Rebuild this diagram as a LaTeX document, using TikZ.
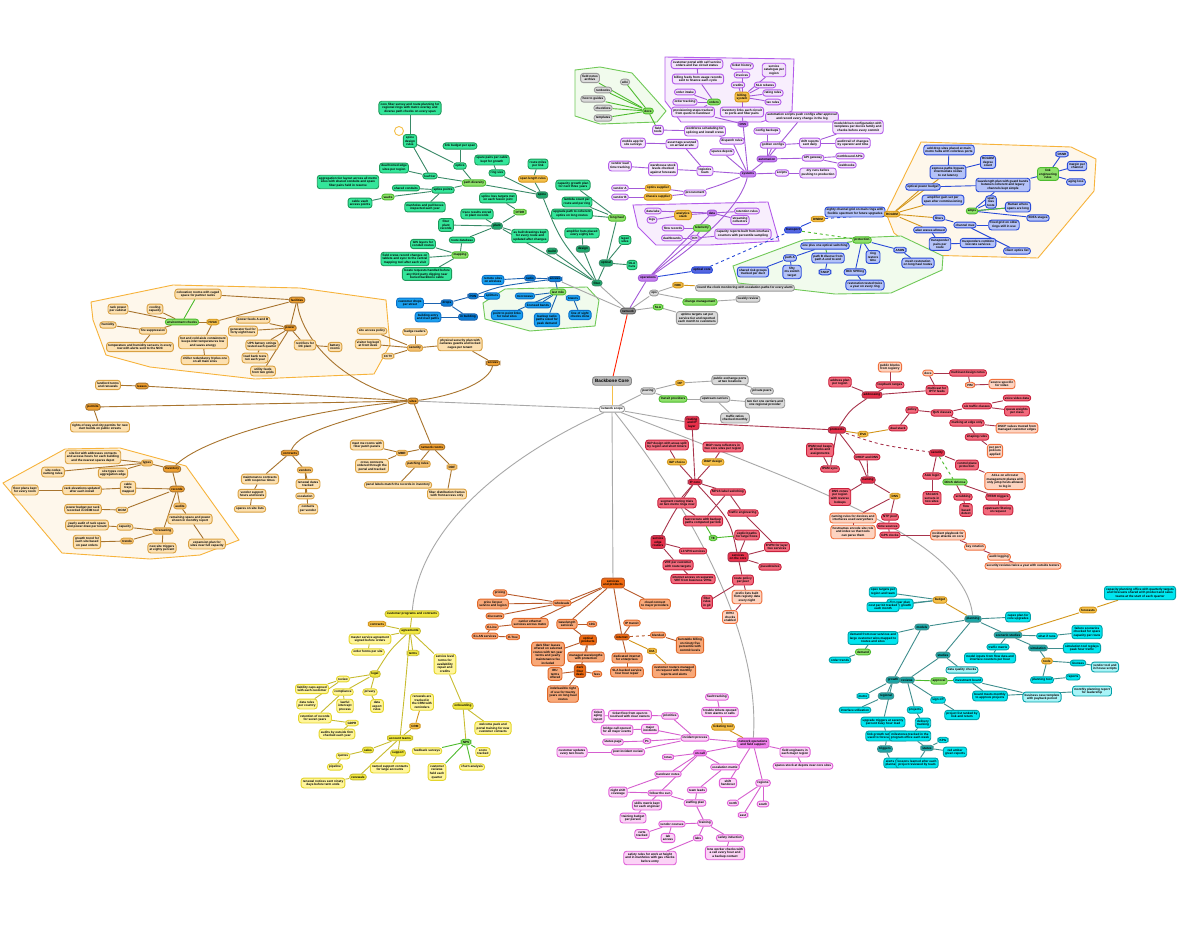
\documentclass[tikz,border=0pt]{standalone}
\usepackage{fontspec}
\setmainfont{Liberation Sans}
\pgfdeclarelayer{hulls}
\pgfdeclarelayer{edges}
\pgfsetlayers{hulls,edges,main}

% colours
\definecolor{grnF}{HTML}{33E69A}\definecolor{grnB}{HTML}{1C9A5A}
\definecolor{grnH}{HTML}{1DAA6E}\definecolor{grnL}{HTML}{3A8A68}
\definecolor{limF}{HTML}{8EE06A}\definecolor{limB}{HTML}{4DBB2E}
\definecolor{golF}{HTML}{F5C04A}\definecolor{golB}{HTML}{D4961A}
\definecolor{skyF}{HTML}{1AA0F0}\definecolor{skyB}{HTML}{0A70C8}
\definecolor{skyH}{HTML}{0A7FD8}\definecolor{skyL}{HTML}{1E64B0}
\definecolor{purF}{HTML}{F3E3FB}\definecolor{purB}{HTML}{B35BEA}
\definecolor{purH}{HTML}{C680F0}\definecolor{purL}{HTML}{A45AD8}
\definecolor{indF}{HTML}{B4C2F8}\definecolor{indB}{HTML}{2A4BD8}
\definecolor{indH}{HTML}{5566E0}
\definecolor{ornF}{HTML}{FCE0B0}\definecolor{ornB}{HTML}{D9A040}
\definecolor{ornM}{HTML}{F4C070}\definecolor{ornH}{HTML}{F0A030}
\definecolor{ornL}{HTML}{A8742E}
\definecolor{redF}{HTML}{F26A7C}\definecolor{redB}{HTML}{C8203C}
\definecolor{redH}{HTML}{E8304A}\definecolor{redL}{HTML}{A8344C}
\definecolor{salF}{HTML}{FDD3C0}\definecolor{salB}{HTML}{F0703C}
\definecolor{droF}{HTML}{F8A878}\definecolor{droB}{HTML}{E06828}
\definecolor{droH}{HTML}{F06A10}\definecolor{droL}{HTML}{B85A2A}
\definecolor{yelF}{HTML}{FFF59A}\definecolor{yelB}{HTML}{E3D42A}
\definecolor{yelH}{HTML}{F2E840}\definecolor{yelL}{HTML}{C8BC30}
\definecolor{pnkF}{HTML}{FBD3F6}\definecolor{pnkB}{HTML}{E05FD8}
\definecolor{pnkH}{HTML}{F080EC}\definecolor{pnkL}{HTML}{D65FCF}
\definecolor{tealF}{HTML}{00E6F0}\definecolor{tealB}{HTML}{00A0A8}
\definecolor{tealH}{HTML}{1AA8A8}\definecolor{tealT}{HTML}{A8F4F8}
\definecolor{tealL}{HTML}{3F8E8E}
\definecolor{gryF}{HTML}{DADADA}\definecolor{gryB}{HTML}{9A9A9A}
\definecolor{gryH}{HTML}{8A8A8A}\definecolor{gryL}{HTML}{A8A8A8}

\tikzset{
  box/.style={draw, rounded corners=2.8pt, line width=0.9pt, inner sep=1.7pt,
    align=center, font=\fontsize{3.1}{3.6}\selectfont\bfseries},
  gbox/.style={box, draw=grnB, fill=grnF},
  ghub/.style={box, draw=grnL, fill=grnH},
  lbox/.style={box, draw=limB, fill=limF},
  obox/.style={box, draw=golB, fill=golF},
  sbox/.style={box, draw=skyB, fill=skyF},
  shub/.style={box, draw=skyL, fill=skyH},
  pbox/.style={box, draw=purB, fill=purF},
  phub/.style={box, draw=purL, fill=purH},
  ibox/.style={box, draw=indB, fill=indF},
  ihub/.style={box, draw=indB, fill=indH},
  abox/.style={box, draw=ornB, fill=ornF},
  amid/.style={box, draw=ornB, fill=ornM},
  ahub/.style={box, draw=ornL, fill=ornH},
  rbox/.style={box, draw=redB, fill=redF},
  rhub/.style={box, draw=redL, fill=redH},
  sal/.style={box, draw=salB, fill=salF},
  dbox/.style={box, draw=droB, fill=droF},
  dhub/.style={box, draw=droL, fill=droH},
  ybox/.style={box, draw=yelB, fill=yelF},
  yhub/.style={box, draw=yelL, fill=yelH},
  kbox/.style={box, draw=pnkB, fill=pnkF},
  khub/.style={box, draw=pnkL, fill=pnkH},
  tbox/.style={box, draw=tealB, fill=tealF},
  thub/.style={box, draw=tealL, fill=tealH},
  ltb/.style={box, draw=tealB, fill=tealT},
  grbox/.style={box, draw=gryB, fill=gryF},
  chub/.style={box, draw=gryH!70!black, fill=gryH},
  cbox/.style={box, draw=gryB, fill=white},
  core/.style={box, draw=gryH, fill=gryF!85!black, inner sep=2.6pt,
    font=\fontsize{4.6}{5}\selectfont\bfseries},
  lk/.style={line width=0.9pt},
  gl/.style={lk, draw=grnL}, sl/.style={lk, draw=skyL}, pl/.style={lk, draw=purL},
  il/.style={lk, draw=indB}, al/.style={lk, draw=ornL}, rl/.style={lk, draw=redL},
  dl/.style={lk, draw=droL}, yl/.style={lk, draw=yelL}, kl/.style={lk, draw=pnkL},
  tl/.style={lk, draw=tealL}, cl/.style={lk, draw=gryL}, ol/.style={lk, draw=golB},
  ll/.style={lk, draw=limB},
  hullO/.style={draw=golF!80!orange, fill=ornF!25, line width=0.9pt},
  hullG/.style={draw=limB!80, fill=limF!12, line width=0.9pt},
  hullP/.style={draw=purB, fill=purF!60, line width=0.9pt}
}

\begin{document}
\begin{tikzpicture}[x=1pt,y=-1pt]
\useasboundingbox (0,0) rectangle (1200,927);

\begin{pgfonlayer}{hulls}
\fill[white] (0,0) rectangle (1200,927);
\draw[hullG] (483,303) -- (505,289) -- (587,287) -- (599,300) -- (595,326) -- (530,331) -- (485,319) -- cycle;
\draw[hullG] (575,70) -- (600,67) -- (632,73) -- (666,111) -- (657,122) -- (600,124) -- (575,116) -- cycle;
\draw[hullP] (665,57) -- (794,59) -- (792,111) -- (777,117) -- (761,122) -- (681,122) -- (665,101) -- cycle;
\draw[hullP] (633,205) -- (768,202) -- (779,241) -- (710,245) -- (656,245) -- (638,227) -- cycle;
\draw[hullO] (886,213) -- (921,142) -- (1071,147) -- (1096,159) -- (1094,191) -- (1038,258) -- (922,255) -- (894,233) -- cycle;
\draw[hullG] (733,266) -- (803,240) -- (901,236) -- (943,256) -- (942,270) -- (891,293) -- (835,294) -- (738,283) -- cycle;
\draw[hullO] (91,302) -- (173,285) -- (300,288) -- (386,300) -- (390,345) -- (374,374) -- (255,379) -- (150,367) -- (106,355) -- (93,320) -- cycle;
\draw[hullO] (3,483) -- (65,449) -- (120,448) -- (186,466) -- (239,540) -- (200,555) -- (150,559) -- (62,553) -- cycle;
\end{pgfonlayer}

% centre
\node[core] (c1) at (612,381) {Backbone Core};
\node[chub] (c0) at (628,311) {network};
\node[cbox] (c2) at (612,409) {network scope};
\foreach \n/\x/\y/\t in {c3/654/293/{ops}, c5/745/288/{round the clock monitoring with escalation paths for every alarm},
  c7/748/299/{weekly review}, c9/697/318/{uptime targets set per\\service tier and reported\\each month to customers},
  c10/648/391/{peering}, c12/730/380/{public exchange ports\\at two locations}, c13/762/391/{private peers},
  c15/715/399/{upstream carriers}, c16/765/403/{two tier one carriers and\\one regional provider},
  c17/735/418/{traffic ratios\\checked monthly}}
  \node[grbox] (\n) at (\x,\y) {\t};
\foreach \n/\x/\y/\t in {c4/678/285/{NOC}, c11/680/383/{IXP}}
  \node[obox] (\n) at (\x,\y) {\t};
\foreach \n/\x/\y/\t in {c6/700/302/{change management}, c8/658/307/{SLA}, c14/673/399/{transit providers}}
  \node[lbox] (\n) at (\x,\y) {\t};

% green branch
\foreach \n/\x/\y/\t in {
  g1/410/108/{core fiber survey and route planning for\\regional rings with metro overlay and\\diverse path checks on every span},
  g2/410/141/{spine\\design\\rules}, g3/460/146/{link budget per span}, g4/460/166/{optics},
  g5/394/168/{dual homed edge\\sites per region}, g6/430/176/{leaf tier},
  g7/348/182/{aggregation tier layout across all metro\\sites with shared conduits and spare\\fiber pairs held in reserve},
  g9/492/160/{spare pairs per cable\\kept for growth}, g10/497/173/{ring size}, g12/538/164/{route miles\\per link},
  g14/406/188/{shared conduits}, g15/443/190/{splice points}, g16/360/203/{cable vault\\access points},
  g18/425/207/{manholes and pull boxes\\inspected each year}, g19/498/198/{splice loss targets met\\on each fusion joint},
  g21/477/214/{trace results stored\\in plant records}, g22/446/225/{fiber\\plant\\records},
  g24/530/236/{as built drawings kept\\for every route and\\updated after changes},
  g25/462/240/{route database}, g26/423/244/{GIS layers for\\conduit routes},
  g28/405/259/{field crews record changes on\\tablets and sync to the central\\mapping tool after each visit},
  g29/427/274/{locate requests handled before\\any third party digging near\\buried backbone cable},
  g32/573/185/{capacity growth plan\\for next three years}, g33/577/202/{lambda count per\\route and per ring},
  g34/572/214/{upgrade path to coherent\\optics on long routes}, g35/582/233/{amplifier huts placed\\every eighty km},
  g37/625/240/{regen\\sites}, g38/632/265/{OLA\\huts}}
  \node[gbox] (\n) at (\x,\y) {\t};
\foreach \n/\x/\y/\t in {g13/542/195/{spine}, g23/497/226/{plant}, g30/552/251/{build}, g31/583/249/{design},
  g39/606/263/{optical}, g40/597/283/{fiber}}
  \node[ghub] (\n) at (\x,\y) {\t};
\foreach \n/\x/\y/\t in {g8/474/183/{path diversity}, g17/388/197/{vaults}, g20/520/212/{OTDR},
  g27/460/255/{mapping}, g36/617/218/{long haul}}
  \node[lbox] (\n) at (\x,\y) {\t};
\node[obox] (g11) at (533,179) {span length rules};
\draw[golF, line width=0.9pt] (399,131) circle (4.5pt);

% access branch
\foreach \n/\x/\y/\t in {s1/493/280/{remote sites\\on wireless}, s6/492/296/{splitters}, s7/410/303/{customer drops\\per street},
  s9/525/296/{microwave}, s10/538/305/{licensed bands}, s11/573/298/{towers}, s12/428/317/{building entry\\and riser paths},
  s14/507/315/{point to point links\\for rural sites}, s15/547/320/{backup radio\\paths sized for\\peak demand},
  s16/580/315/{line of sight\\checks done}}
  \node[sbox] (\n) at (\x,\y) {\t};
\foreach \n/\x/\y/\t in {s2/530/278/{radio}, s3/555/279/{access}, s5/473/296/{PON}, s8/447/303/{drops},
  s13/468/317/{in building}}
  \node[shub] (\n) at (\x,\y) {\t};
\node[lbox] (s4) at (558,292) {last mile};

% docs group
\foreach \n/\x/\y/\t in {q1/590/78/{field notes\\archive}, q2/625/82/{wiki}, q3/603/90/{runbooks},
  q4/593/99/{how to guides}, q5/603/108/{checklists}, q6/603/118/{templates}}
  \node[grbox] (\n) at (\x,\y) {\t};
\node[lbox] (q7) at (648,111) {docs};

% systems branch
\foreach \n/\x/\y/\t in {
  p1/697/64/{customer portal with self service\\orders and live circuit status}, p2/742/66/{ticket history},
  p3/774/70/{service\\catalogue per\\region}, p4/698/79/{billing feeds from usage records\\sent to finance each cycle},
  p5/742/75/{invoices}, p6/738/85/{credits}, p7/765/85/{SLA rebates}, p9/773/93/{rating rules},
  p10/773/102/{tax rules}, p11/685/92/{order intake}, p12/685/102/{order tracking},
  p14/693/112/{provisioning steps tracked\\from quote to handover}, p15/742/112/{inventory links each circuit\\to ports and fiber pairs},
  p17/802/117/{automation scripts push configs after approval\\and record every change in the log},
  p18/858/127/{model driven configuration with\\templates per device family and\\checks before every commit},
  p19/658/130/{field\\tools}, p20/705/131/{workforce scheduling for\\splicing and install crews},
  p21/732/141/{dispatch rules}, p22/767/131/{config backups}, p23/633/143/{mobile app for\\site surveys},
  p24/682/144/{asset tags scanned\\on arrival at site}, p25/722/152/{spares depots}, p26/773/145/{golden configs},
  p27/810/143/{drift reports\\sent daily}, p28/853/143/{audit trail of changes\\by operator and time},
  p30/813/158/{API gateway}, p31/850/156/{northbound APIs}, p32/847/165/{webhooks}, p33/782/173/{scripts},
  p34/818/173/{dry runs before\\pushing to production}, p36/705/171/{logistics\\team},
  p37/663/169/{warehouse stock\\levels checked\\against forecasts}, p38/620/166/{vendor lead\\time tracking},
  p39/620/188/{vendor A}, p40/620/197/{vendor B}, p43/695/193/{procurement}, p44/653/211/{data lake},
  p47/747/211/{retention rules}, p48/652/220/{logs}, p49/673/228/{flow records}, p51/740/220/{streaming\\collectors},
  p52/672/238/{dashboards}, p53/695/238/{KPI},
  p54/743/234/{capacity reports built from interface\\counters with percentile sampling}}
  \node[pbox] (\n) at (\x,\y) {\t};
\foreach \n/\x/\y/\t in {p16/743/124/{OSS}, p29/767/159/{automation}, p35/748/174/{systems},
  p46/712/213/{data}, p55/648/278/{operations}}
  \node[phub] (\n) at (\x,\y) {\t};
\foreach \n/\x/\y/\t in {p8/742/97/{billing\\system}, p41/658/188/{optics supplier}, p42/658/197/{chassis supplier},
  p45/683/215/{analytics\\stack}}
  \node[obox] (\n) at (\x,\y) {\t};
\foreach \n/\x/\y/\t in {p13/714/102/{orders}, p50/702/228/{telemetry}}
  \node[lbox] (\n) at (\x,\y) {\t};

% transport branch
\foreach \n/\x/\y/\t in {
  i4/855/212/{eighty channel grid on main rings with\\flexible spectrum for future upgrades},
  i6/949/150/{add drop sites placed at main\\metro hubs with colorless ports}, i7/988/162/{ROADM\\degree\\count},
  i8/948/172/{express paths bypass\\intermediate nodes\\to cut latency}, i9/923/187/{optical power budget},
  i10/1003/185/{wavelength plan with guard bands\\between coherent and legacy\\channels kept simple},
  i11/1062/154/{OSNR}, i12/1077/166/{margin per\\channel}, i13/1076/182/{aging loss},
  i15/943/200/{amplifier gain set per\\span after commissioning}, i16/991/202/{span\\loss\\tests},
  i17/1018/207/{Raman where\\spans are long}, i19/1038/218/{EDFA stages}, i20/939/218/{filters},
  i21/965/225/{channel mux}, i22/1004/225/{fixed grid on older\\rings still in use}, i23/930/230/{alien waves allowed},
  i24/940/244/{transponder\\pairs per\\route}, i25/978/243/{muxponders combine\\low rate services},
  i26/1017/251/{client optics list},
  i28/825/246/{one plus one optical switching}, i29/790/258/{path A}, i30/828/258/{path B diverse from\\path A end to end},
  i31/873/257/{ring\\restore\\time}, i32/753/272/{shared risk groups\\tracked per duct}, i33/792/272/{fifty\\ms switch\\target},
  i34/825/272/{SNCP}, i35/855/272/{OCh SPRing}, i36/865/285/{restoration tested twice\\a year on every ring},
  i37/918/263/{mesh restoration\\on long haul routes}, i38/900/250/{ASON}}
  \node[ibox] (\n) at (\x,\y) {\t};
\foreach \n/\x/\y/\t in {i1/793/230/{transport}, i2/702/270/{optical core}}
  \node[ihub] (\n) at (\x,\y) {\t};
\foreach \n/\x/\y/\t in {i3/818/219/{DWDM}, i5/892/214/{ROADM}}
  \node[obox] (\n) at (\x,\y) {\t};
\foreach \n/\x/\y/\t in {i14/1048/174/{link\\engineering\\rules}, i18/972/211/{amps}, i27/862/240/{protection}}
  \node[lbox] (\n) at (\x,\y) {\t};

% sites branch
\foreach \n/\x/\y/\t in {
  a1/198/294/{colocation rooms with caged\\space for partner racks}, a3/118/309/{rack power\\per cabinet},
  a4/155/309/{cooling\\capacity}, a6/108/325/{humidity}, a7/153/331/{fire suppression},
  a9/253/320/{power feeds A and B}, a10/243/331/{generator fuel for\\forty eight hours},
  a12/140/347/{temperature and humidity sensors in every\\row with alerts sent to the NOC},
  a13/203/342/{hot and cold aisle containment\\keeps inlet temperatures low\\and saves energy},
  a14/262/345/{UPS battery strings\\tested each quarter}, a15/205/360/{chiller redundancy N plus one\\on all main sites},
  a16/255/358/{load bank tests\\run each year}, a17/263/371/{utility feeds\\from two grids},
  a18/305/345/{rectifiers for\\DC plant}, a19/335/347/{battery\\rooms},
  a20/372/331/{site access policy}, a21/415/332/{badge readers}, a22/368/344/{visitor log kept\\at front desk},
  a24/388/356/{CCTV}, a25/460/344/{physical security plan with\\cameras guards and locked\\cages per tenant},
  a28/108/385/{landlord terms\\and renewals}, a30/100/427/{rights of way and city permits for new\\duct builds on public streets},
  a31/93/457/{site list with addresses contacts\\and access hours for each building\\and the nearest spares depot},
  a32/53/472/{site codes\\naming rules}, a33/113/473/{site types core\\aggregation edge},
  a36/25/490/{floor plans kept\\for every room}, a37/82/490/{rack elevations updated\\after each install},
  a38/128/488/{cable\\trays\\mapped}, a40/83/509/{power budget per rack\\recorded in DCIM tool}, a41/122/510/{DCIM},
  a43/87/525/{yearly audit of rack space\\and power draw per tenant}, a44/125/527/{capacity},
  a45/190/519/{remaining space and power\\shown in monthly report}, a47/87/542/{growth trend for\\each site based\\on past orders},
  a49/162/548/{new site triggers\\at eighty percent}, a50/207/544/{expansion plan for\\sites near full capacity},
  a52/260/479/{maintenance contracts\\with response times}, a53/252/494/{vendor support\\hours and levels},
  a54/250/509/{spares on site lists}, a56/308/484/{renewal dates\\tracked}, a57/305/496/{escalation},
  a58/308/509/{contacts\\per vendor}, a61/367/445/{meet me rooms with\\fiber patch panels},
  a63/372/466/{cross connects\\ordered through the\\portal and tracked}, a66/398/485/{panel labels match the records in inventory},
  a67/447/494/{fiber distribution frames\\with front access only}}
  \node[abox] (\n) at (\x,\y) {\t};
\foreach \n/\x/\y/\t in {a23/415/348/{security}, a34/147/463/{types}, a42/180/506/{audits}, a46/163/531/{forecasting},
  a48/127/541/{trends}, a55/305/470/{vendors}, a62/402/453/{MMR}, a64/418/464/{patching rules}, a65/452/467/{ODF}}
  \node[amid] (\n) at (\x,\y) {\t};
\foreach \n/\x/\y/\t in {a0/413/401/{sites}, a2/297/300/{facilities}, a11/290/328/{power}, a26/493/363/{access},
  a27/142/386/{leases}, a29/93/407/{permits}, a35/172/469/{inventory}, a39/177/489/{records},
  a51/290/453/{contracts}, a60/432/447/{network rooms}}
  \node[ahub] (\n) at (\x,\y) {\t};
\node[lbox] (a5) at (182,322) {environment checks};
\node[obox] (a8) at (213,322) {HVAC};

% routing branch
\foreach \n/\x/\y/\t in {
  r2/667/445/{IGP design with areas split\\by region and short timers}, r3/723/447/{BGP route reflectors in\\two core sites per region},
  r7/728/492/{MPLS label switching}, r8/677/503/{segment routing trials\\on two metro rings now},
  r9/743/513/{traffic engineering}, r10/703/521/{fast reroute with backup\\paths computed per link},
  r12/747/535/{explicit paths\\for large flows}, r14/693/551/{L3 VPN services}, r16/777/547/{EVPN for layer\\two services},
  r17/678/565/{VRF per customer\\with route targets}, r18/770/567/{pseudowires},
  r19/693/579/{internet access on separate\\VRF from business VPNs}, r20/743/580/{route policy\\per peer},
  r21/707/602/{filter\\rules\\in git}, r26/898/428/{dual stack}, r27/840/382/{address plan\\per region},
  r28/890/385/{loopback ranges}, r31/820/450/{IPAM tool keeps\\all blocks and\\assignments}, r32/830/469/{IPAM sync},
  r33/867/457/{DHCP and DNS}, r35/840/497/{DNS zones\\per region\\with reverse\\lookups},
  r39/890/517/{NTP pool}, r40/888/526/{time sources}, r41/890/535/{GPS clocks},
  r43/968/373/{multicast design notes}, r46/937/390/{multicast for\\IPTV feeds}, r47/912/410/{policy},
  r48/942/413/{QoS classes}, r49/977/406/{six traffic classes}, r50/1017/398/{voice video data},
  r51/1017/411/{queue weights\\per class}, r52/967/423/{marking at edge only}, r54/977/437/{shaping rules},
  r57/967/465/{control plane\\protection}, r59/932/476/{AAA login}, r60/932/498/{TACACS\\servers in\\two sites},
  r62/963/497/{scrubbing}, r63/998/497/{RTBH triggers}, r64/966/510/{flow\\based\\detect},
  r65/998/510/{upstream filtering\\on request}}
  \node[rbox] (\n) at (\x,\y) {\t};
\foreach \n/\x/\y/\t in {r1/692/423/{routing\\and IP\\layer}, r6/695/482/{IP core}, r13/658/542/{service\\edge\\routers},
  r15/738/557/{services\\on the core}, r24/837/430/{protocols}, r29/872/395/{addressing}, r34/868/480/{naming},
  r56/937/453/{security}}
  \node[rhub] (\n) at (\x,\y) {\t};
\foreach \n/\x/\y/\t in {r4/677/462/{IGP choice}, r5/713/462/{iBGP design}, r25/863/434/{IPv6}, r36/895/496/{DNS}}
  \node[obox] (\n) at (\x,\y) {\t};
\foreach \n/\x/\y/\t in {r11/713/538/{TE}, r61/955/482/{DDoS defense}}
  \node[lbox] (\n) at (\x,\y) {\t};
\foreach \n/\x/\y/\t in {r22/747/597/{prefix lists built\\from registry data\\every night}, r23/730/617/{RPKI\\checks\\enabled},
  r30/890/367/{public blocks\\from registry}, r37/853/518/{naming rules for devices and\\interfaces used everywhere},
  r38/853/532/{hostnames encode site role\\and index so that tools\\can parse them}, r42/928/373/{docs},
  r44/970/385/{PIM}, r45/1002/384/{source specific\\for video}, r53/1017/428/{DSCP values trusted from\\managed customer edges},
  r55/995/451/{per port\\policers\\applied}, r58/1005/481/{ACLs on all router\\management planes with\\only jump hosts allowed\\to log in},
  r66/948/535/{incident playbook for\\large attacks on core}, r67/975/547/{key rotation}, r68/999/557/{audit logging},
  r69/1023/566/{security reviews twice a year with outside testers}}
  \node[sal] (\n) at (\x,\y) {\t};

% products branch
\foreach \n/\x/\y/\t in {d1/500/593/{pricing}, d2/493/604/{price list per\\service and region}, d3/495/616/{discounts},
  d4/562/603/{wholesale}, d5/530/623/{carrier ethernet\\services across metro}, d6/492/627/{E-Line},
  d7/485/636/{E-LAN services}, d8/513/637/{E-Tree}, d9/567/624/{wavelength\\services}, d10/592/624/{10G},
  d11/548/654/{dark fiber leases\\offered on selected\\routes with ten year\\terms and yearly\\maintenance fee\\included},
  d13/586/657/{managed wavelengths\\with protection}, d14/555/674/{IRU\\terms\\offered}, d16/597/674/{fees},
  d17/563/694/{indefeasible right\\of use for twenty\\years on long haul\\routes}, d18/632/623/{IP transit},
  d20/658/635/{blended}, d21/690/645/{burstable billing\\on ninety five\\percentile with\\commit levels},
  d23/627/658/{dedicated internet\\for enterprises}, d24/627/672/{SLA backed service\\four hour repair},
  d25/674/671/{customer routers managed\\on request with monthly\\reports and alerts}, d26/655/604/{cloud connect\\to major providers}}
  \node[dbox] (\n) at (\x,\y) {\t};
\foreach \n/\x/\y/\t in {d0/613/583/{services\\and products}, d12/588/640/{optical\\products}, d15/580/671/{dark\\fiber\\deals},
  d19/622/637/{internet}}
  \node[dhub] (\n) at (\x,\y) {\t};
\node[obox] (d22) at (652,651) {DIA};

% contracts branch
\foreach \n/\x/\y/\t in {y3/370/639/{master service agreement\\signed before orders}, y4/368/652/{order forms per site},
  y6/445/664/{service level\\terms for\\availability\\repair and\\credits}, y8/343/679/{review},
  y9/312/689/{liability caps agreed\\with each customer}, y10/343/692/{compliance}, y11/370/692/{privacy},
  y12/307/704/{data rules\\per country}, y13/345/706/{lawful\\intercept\\process}, y14/377/706/{data\\export\\rules},
  y15/422/702/{renewals are\\tracked in\\the CRM with\\reminders}, y16/315/718/{retention of records\\for seven years},
  y17/352/723/{GDPR}, y18/337/734/{audits by outside firm\\checked each year},
  y20/493/728/{welcome pack and\\portal training for new\\customer contacts}, y25/343/756/{quotes},
  y26/335/767/{pipeline}, y27/390/768/{named support contacts\\for large accounts},
  y29/323/783/{renewal notices sent ninety\\days before term ends}, y30/427/751/{feedback surveys},
  y32/483/752/{score\\tracked}, y33/437/772/{customer\\reviews\\held each\\quarter}, y34/472/767/{churn analysis}}
  \node[ybox] (\n) at (\x,\y) {\t};
\foreach \n/\x/\y/\t in {y0/412/614/{customer programs and contracts}, y2/410/631/{agreements}, y5/413/653/{terms},
  y7/375/674/{legal}, y19/463/706/{onboarding}, y22/400/738/{account teams}, y23/368/750/{sales},
  y24/398/753/{support}, y28/358/777/{renewals}}
  \node[yhub] (\n) at (\x,\y) {\t};
\foreach \n/\x/\y/\t in {y1/377/624/{contracts}, y21/415/726/{CRM}}
  \node[obox] (\n) at (\x,\y) {\t};
\node[lbox] (y31) at (466,742) {NPS};

% field branch
\foreach \n/\x/\y/\t in {k1/717/697/{fault tracking}, k2/720/712/{trouble tickets opened\\from alarms or calls},
  k4/670/716/{priorities}, k5/630/715/{ticket flow from open to\\resolved with clear owners},
  k6/695/738/{incident process}, k7/650/729/{major\\incidents}, k8/617/730/{bridge call opened\\for all major events},
  k9/647/741/{P1}, k10/613/742/{status page}, k11/628/752/{post incident review},
  k13/668/757/{rotas}, k14/725/767/{escalation matrix}, k15/795/752/{field engineers in\\each major region},
  k16/803/766/{spares stock at depots near core sites}, k17/668/774/{handover notes}, k18/728/783/{shift\\handover},
  k19/763/783/{regions}, k20/618/792/{night shift\\coverage}, k21/660/793/{follow the sun}, k22/697/790/{team leads},
  k23/695/803/{staffing plan}, k24/647/805/{skills matrix kept\\for each engineer}, k25/733/803/{north},
  k26/763/804/{south}, k27/633/818/{training budget\\per person}, k28/743/815/{east}, k29/705/823/{training},
  k30/672/824/{vendor courses}, k31/642/834/{certs\\tracked}, k32/668/838/{lab\\access}, k33/698/838/{labs},
  k34/730/838/{safety induction}, k35/650/858/{safety rules for work at height\\and in manholes with gas checks\\before entry},
  k36/725/853/{lone worker checks with\\a call every hour and\\a backup contact}, k37/598/716/{ticket\\aging\\report},
  k38/572/752/{customer updates\\every two hours}}
  \node[kbox] (\n) at (\x,\y) {\t};
\foreach \n/\x/\y/\t in {k0/753/743/{network operations\\and field support}, k12/700/753/{on call}}
  \node[khub] (\n) at (\x,\y) {\t};
\node[obox] (k3) at (723,727) {ticketing tool};

% planning branch
\foreach \n/\x/\y/\t in {
  t1/1140/593/{capacity planning office with quarterly targets\\and forecasts shared with product and sales\\teams at the start of each quarter},
  t4/1018/617/{capex plan for\\core upgrades}, t5/900/604/{five year plan\\for core growth},
  t6/883/592/{opex targets per\\region and team}, t7/883/607/{cost per bit tracked\\each month},
  t8/873/638/{demand from new services and\\large customer wins mapped to\\routes and sites}, t10/840/660/{order trends},
  t12/863/696/{metro}, t14/855/710/{interface utilization}, t15/883/722/{upgrade triggers at seventy\\percent busy hour load},
  t16/887/736/{link growth rate per month\\used to forecast upgrades}, t18/892/763/{alerts to\\planners},
  t21/1047/636/{what if runs}, t22/1087/632/{failure scenarios\\checked for spare\\capacity per route},
  t23/998/647/{traffic matrix}, t25/1082/648/{simulation tool replays\\peak hour traffic},
  t26/990/658/{model inputs from flow data and\\interface counters per hour}, t28/1078/663/{licenses},
  t31/1042/680/{planning tool}, t32/1073/677/{reports}, t36/968/680/{investment board}, t38/938/700/{sign off},
  t39/990/696/{board meets monthly\\to approve projects}, t41/915/710/{projects}, t42/962/715/{project list ranked by\\risk and return},
  t43/923/723/{delivery\\tracking}, t44/910/736/{milestones tracked in the\\program office each week},
  t45/943/740/{KPIs}, t47/955/752/{red amber\\green reports}, t48/917/763/{lessons learned after each\\project reviewed by team}}
  \node[tbox] (\n) at (\x,\y) {\t};
\foreach \n/\x/\y/\t in {t0/973/619/{planning}, t11/893/680/{growth}, t13/886/696/{regional}, t17/885/749/{triggers},
  t19/922/627/{models}, t20/1008/635/{scenario studies}, t24/1038/648/{simulation}, t33/943/655/{studies},
  t34/907/680/{reviews}, t46/927/748/{status}}
  \node[thub] (\n) at (\x,\y) {\t};
\foreach \n/\x/\y/\t in {t2/1088/610/{forecasts}, t3/940/600/{budget}, t27/1047/661/{tools}}
  \node[obox] (\n) at (\x,\y) {\t};
\foreach \n/\x/\y/\t in {t29/1105/667/{vendor tool and\\in house scripts}, t30/962/670/{data quality checks},
  t37/1092/691/{monthly planning report\\for leadership}, t40/1042/697/{business case template\\with payback period}}
  \node[ltb] (\n) at (\x,\y) {\t};
\foreach \n/\x/\y/\t in {t9/863/652/{demand}, t35/939/681/{approval}}
  \node[lbox] (\n) at (\x,\y) {\t};

\begin{pgfonlayer}{edges}
% trunk
\draw[lk, draw=red!75!orange] (c1) -- (c0);
\draw[lk, draw=golF, line width=1pt] (c1) -- (c2);
\foreach \a/\b in {c0/g40, c0/s3, c0/c3, c0/c8, c3/c4, c3/c6, c6/c7, c8/c9, c2/c10, c10/c11, c11/c12, c12/c13,
  c10/c14, c14/c15, c15/c16, c15/c17, c2/r1, c2/d0, c2/a0}
  \draw[cl] (\a) -- (\b);
\draw[ol] (c4) -- (c5);
\draw[pl] (c0) -- (p55);
\draw[cl] (c2) .. controls (520,450) and (420,520) .. (y0);
\draw[cl] (c2) .. controls (700,520) and (760,640) .. (k0);
\draw[cl] (c2) .. controls (820,490) and (965,540) .. (t0);
% green
\foreach \a/\b in {g1/g2, g2/g6, g2/g4, g3/g4, g4/g8, g5/g6, g6/g8, g8/g13, g9/g10, g10/g13, g12/g11, g11/g13,
  g14/g15, g15/g8, g16/g17, g17/g15, g18/g15, g19/g20, g20/g23, g21/g23, g22/g23, g24/g23, g23/g40,
  g25/g23, g25/g27, g26/g27, g28/g27, g29/g27, g30/g40, g31/g40, g32/g36, g33/g36, g34/g36, g35/g31,
  g36/g39, g37/g39, g38/g39, g39/g40}
  \draw[gl] (\a) -- (\b);
\draw[gl] (g13) .. controls (560,240) .. (g40);
% access
\foreach \a/\b in {s1/s2, s2/s3, s4/s3, s9/s4, s10/s4, s11/s4, s14/s4, s15/s4, s16/s11, s6/s5, s7/s8, s8/s5,
  s12/s13, s13/s8}
  \draw[sl] (\a) -- (\b);
\draw[sl] (s5) .. controls (500,286) .. (s3);
% docs
\foreach \a/\b in {q1/q7, q2/q7, q3/q7, q4/q7, q5/q7, q6/q7, q7/p19}
  \draw[ll] (\a) -- (\b);
% systems
\foreach \a/\b in {p2/p8, p3/p8, p5/p8, p6/p8, p7/p8, p9/p8, p10/p8, p8/p15, p1/p4, p4/p13, p11/p13, p12/p13,
  p13/p14, p14/p16, p15/p16, p16/p35, p17/p29, p18/p27, p19/p20, p20/p21, p21/p35, p22/p29, p23/p24,
  p24/p36, p25/p35, p26/p29, p27/p26, p28/p27, p29/p35, p30/p29, p31/p30, p32/p30, p33/p35, p34/p33,
  p36/p35, p37/p36, p38/p37, p39/p41, p40/p42, p41/p43, p42/p43, p44/p46, p45/p46, p47/p46, p48/p45,
  p49/p50, p50/p53, p51/p46, p52/p53, p54/p53, p53/p55, p46/p55}
  \draw[pl] (\a) -- (\b);
\draw[pl] (p43) .. controls (720,185) .. (p35);
\draw[pl] (p35) .. controls (740,210) and (690,250) .. (p55);
% transport
\draw[il] (p55) -- (i2);
\draw[il, dashed] (i2) -- (i1);
\foreach \a/\b in {i1/i3, i4/i5, i6/i8, i7/i8, i9/i10, i10/i18, i14/i11, i14/i12, i14/i13, i14/i10, i16/i18,
  i17/i18, i19/i18, i20/i21, i21/i22, i21/i26, i23/i24, i24/i25, i29/i28, i29/i32, i29/i33, i30/i34, i31/i27,
  i35/i27, i36/i35, i27/i38, i38/i37}
  \draw[il] (\a) -- (\b);
\draw[il, dashed] (i3) -- (i5);
\draw[ll, dashed] (i1) -- (i27);
\draw[ll] (i27) -- (i28);
\draw[ll] (i28) -- (i30);
\foreach \b in {i8, i9, i15, i20, i23}
  \draw[ol] (i5) -- (\b);
\draw[ll] (i18) -- (i17);
% sites
\foreach \a/\b in {a0/a27, a0/a29, a0/a60, a27/a28, a29/a30, a2/a1, a2/a11, a2/a8, a8/a5, a3/a5, a4/a5, a6/a7,
  a7/a5, a12/a7, a13/a8, a15/a13, a9/a11, a10/a11, a14/a11, a16/a14, a17/a11, a18/a11, a19/a18,
  a26/a25, a25/a23, a23/a21, a23/a22, a23/a24, a20/a23, a35/a34, a34/a33, a34/a32, a31/a34, a35/a39,
  a39/a38, a38/a37, a37/a36, a39/a42, a40/a41, a41/a39, a39/a46, a46/a44, a44/a43, a46/a48, a48/a47,
  a46/a49, a42/a45, a45/a50, a51/a52, a52/a53, a53/a54, a51/a55, a55/a56, a55/a57, a55/a58,
  a60/a62, a62/a61, a62/a63, a60/a64, a64/a66, a60/a65, a65/a67}
  \draw[al] (\a) -- (\b);
\draw[al] (a0) .. controls (330,380) and (300,330) .. (a2);
\draw[al] (a0) .. controls (460,395) and (490,380) .. (a26);
\draw[al] (a0) .. controls (300,410) and (200,440) .. (a35);
\draw[al] (a0) .. controls (350,420) and (300,430) .. (a51);
\draw[ll] (a5) -- (a1);
% routing
\foreach \a/\b in {r1/r24, r1/r6, r2/r4, r3/r5, r4/r6, r5/r6, r6/r7, r6/r8, r7/r9, r7/r10, r8/r10, r9/r16,
  r15/r16, r12/r15, r15/r18, r15/r20, r13/r14, r13/r17, r17/r19, r20/r21, r20/r22, r22/r23, r24/r32,
  r32/r31, r29/r27, r29/r28, r28/r30, r34/r33, r34/r35, r34/r36, r36/r37, r37/r38, r36/r39, r39/r40,
  r40/r41, r26/r47, r47/r48, r48/r49, r49/r50, r49/r51, r48/r52, r52/r53, r52/r54, r54/r55, r29/r46,
  r46/r42, r42/r43, r43/r44, r44/r45, r56/r57, r57/r58, r56/r59, r59/r60, r61/r62, r61/r63, r62/r64,
  r63/r65, r41/r66, r66/r67, r67/r68, r68/r69}
  \draw[rl] (\a) -- (\b);
\draw[rl] (r6) .. controls (675,510) .. (r13);
\draw[rl] (r6) .. controls (730,520) .. (r15);
\draw[rl] (r24) .. controls (850,410) .. (r29);
\draw[rl] (r24) .. controls (860,460) .. (r34);
\draw[rl, dashed] (r24) .. controls (880,445) .. (r56);
\draw[ol] (r24) -- (r25);
\draw[ol] (r25) -- (r26);
\draw[ll] (r10) -- (r11);
\draw[ll] (r11) -- (r12);
\draw[ll, dashed] (r56) -- (r61);
% products
\foreach \a/\b in {d0/d4, d4/d1, d4/d2, d4/d3, d0/d5, d5/d6, d6/d7, d7/d8, d0/d9, d9/d10, d9/d12, d12/d11,
  d12/d13, d12/d15, d15/d14, d15/d16, d15/d17, d0/d19, d19/d18, d19/d23, d23/d24, d0/d26, d20/d21}
  \draw[dl] (\a) -- (\b);
\draw[dl, dashed] (d19) -- (d20);
\draw[ol] (d19) -- (d22);
\draw[ol] (d22) -- (d25);
% contracts
\foreach \a/\b in {y0/y2, y2/y1, y2/y3, y3/y4, y2/y5, y2/y6, y7/y8, y8/y9, y7/y10, y7/y11, y11/y14, y10/y13,
  y8/y12, y10/y16, y16/y17, y17/y18, y6/y19, y19/y20, y21/y22, y22/y23, y22/y24, y23/y25, y25/y26,
  y24/y27, y22/y28, y28/y29, y19/y31}
  \draw[yl] (\a) -- (\b);
\draw[yl] (y2) .. controls (390,650) .. (y7);
\draw[yl] (y2) .. controls (405,690) .. (y22);
\draw[ol] (y15) -- (y21);
\foreach \b in {y30, y32, y33, y34}
  \draw[ll] (y31) -- (\b);
% field
\foreach \a/\b in {k6/k0, k6/k4, k4/k5, k5/k37, k6/k7, k7/k8, k6/k9, k9/k10, k6/k11, k11/k38, k0/k12,
  k12/k13, k12/k14, k12/k17, k0/k15, k15/k16, k0/k18, k0/k19, k19/k25, k19/k26, k19/k28, k14/k22, k22/k23,
  k23/k21, k21/k20, k17/k20, k23/k29, k29/k30, k29/k33, k29/k34, k30/k31, k30/k32, k33/k35, k34/k36,
  k12/k24, k24/k27, k2/k1}
  \draw[kl] (\a) -- (\b);
\draw[ol] (k0) -- (k3);
\draw[ol] (k3) -- (k2);
% planning
\foreach \a/\b in {t0/t19, t0/t20, t0/t33, t19/t8, t8/t9, t9/t10, t3/t5, t3/t6, t3/t7, t0/t4, t20/t21,
  t21/t22, t20/t23, t20/t24, t24/t25, t23/t26, t24/t27, t27/t28, t28/t29, t27/t31, t31/t32, t33/t34,
  t36/t39, t11/t12, t11/t13, t13/t14, t11/t15, t15/t16, t16/t17, t17/t18, t33/t30, t34/t38, t38/t42,
  t34/t41, t41/t43, t43/t44, t44/t46, t45/t46, t46/t47, t46/t48, t36/t40, t19/t11, t39/t37}
  \draw[tl] (\a) -- (\b);
\draw[ol] (t0) -- (t3);
\draw[ol] (t20) -- (t2);
\draw[ol] (t2) -- (t1);
\draw[ll] (t34) -- (t35);
\draw[ll] (t35) -- (t36);
\end{pgfonlayer}
\end{tikzpicture}
\end{document}
